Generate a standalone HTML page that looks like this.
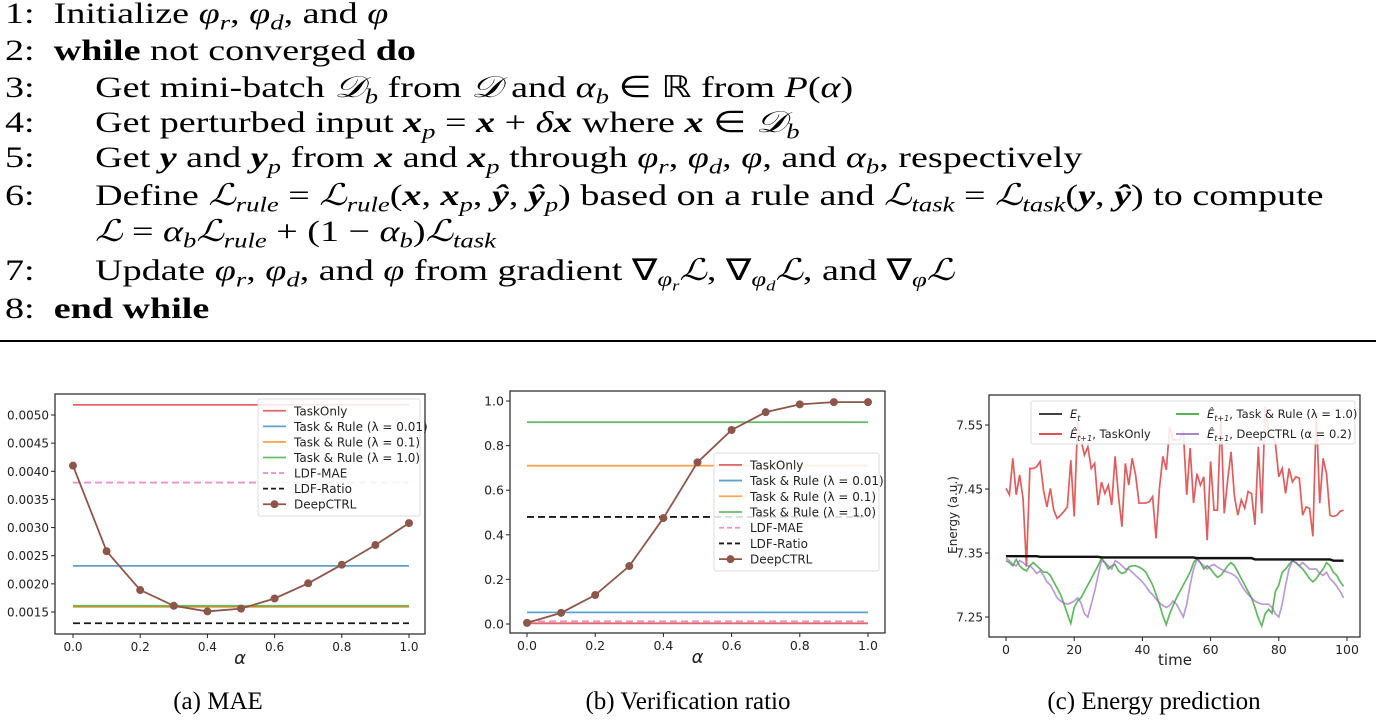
<!DOCTYPE html>
<html><head><meta charset="utf-8">
<style>
html,body{margin:0;padding:0;background:#fff;}
#wrap{position:relative;width:1376px;height:720px;overflow:hidden;font-family:"Liberation Serif",serif;color:#000;}
.ln{position:absolute;font-size:30px;white-space:nowrap;line-height:34px;transform:scaleX(1.27);transform-origin:0 50%;}
.ind{position:absolute;left:71px;}
i{font-style:italic;}
b.v{font-style:italic;font-weight:bold;}
sub{font-size:70%;vertical-align:-0.3em;line-height:0;}
.cap{position:absolute;top:688px;font-size:25px;white-space:nowrap;transform:translateX(-50%);}
svg text{font-family:"DejaVu Sans","Liberation Sans",sans-serif;}
</style></head><body>
<div id="wrap">
<div class="ln" style="top:-3px;left:5px">1:&nbsp; Initialize <i>φ<sub>r</sub></i>, <i>φ<sub>d</sub></i>, and <i>φ</i></div>
<div class="ln" style="top:34px;left:5px">2:&nbsp; <b>while</b> not converged <b>do</b></div>
<div class="ln" style="top:71px;left:5px">3:<span class="ind">Get mini-batch <i>𝒟<sub>b</sub></i> from <i>𝒟</i> and <i>α<sub>b</sub></i> ∈ ℝ from <i>P</i>(<i>α</i>)</span></div>
<div class="ln" style="top:106px;left:5px">4:<span class="ind">Get perturbed input <b class="v">x</b><sub><i>p</i></sub> = <b class="v">x</b> + <i>δ</i><b class="v">x</b> where <b class="v">x</b> ∈ <i>𝒟<sub>b</sub></i></span></div>
<div class="ln" style="top:141px;left:5px">5:<span class="ind">Get <b class="v">y</b> and <b class="v">y</b><sub><i>p</i></sub> from <b class="v">x</b> and <b class="v">x</b><sub><i>p</i></sub> through <i>φ<sub>r</sub></i>, <i>φ<sub>d</sub></i>, <i>φ</i>, and <i>α<sub>b</sub></i>, respectively</span></div>
<div class="ln" style="top:179px;left:5px">6:<span class="ind">Define <i>ℒ<sub>rule</sub></i> = <i>ℒ<sub>rule</sub></i>(<b class="v">x</b>, <b class="v">x</b><sub><i>p</i></sub>, <b class="v">ŷ</b>, <b class="v">ŷ</b><sub><i>p</i></sub>) based on a rule and <i>ℒ<sub>task</sub></i> = <i>ℒ<sub>task</sub></i>(<b class="v">y</b>, <b class="v">ŷ</b>) to compute</span></div>
<div class="ln" style="top:215px;left:95px"><i>ℒ</i> = <i>α<sub>b</sub>ℒ<sub>rule</sub></i> + (1 − <i>α<sub>b</sub></i>)<i>ℒ<sub>task</sub></i></div>
<div class="ln" style="top:254px;left:5px">7:<span class="ind">Update <i>φ<sub>r</sub></i>, <i>φ<sub>d</sub></i>, and <i>φ</i> from gradient ∇<sub><i>φ<sub>r</sub></i></sub><i>ℒ</i>, ∇<sub><i>φ<sub>d</sub></i></sub><i>ℒ</i>, and ∇<sub><i>φ</i></sub><i>ℒ</i></span></div>
<div class="ln" style="top:292px;left:5px">8:&nbsp; <b>end while</b></div>
<div style="position:absolute;left:0;top:340px;width:1376px;height:2px;background:#000"></div>

<svg id="charts" width="1376" height="720" style="position:absolute;left:0;top:0"></svg>

<div class="cap" style="left:218px">(a) MAE</div>
<div class="cap" style="left:688px">(b) Verification ratio</div>
<div class="cap" style="left:1154px">(c) Energy prediction</div>
</div>
<script>
// ---- data ----
const alphas = [0,0.1,0.2,0.3,0.4,0.5,0.6,0.7,0.8,0.9,1.0];
const maeBaselineNames = ["TaskOnly","Task & Rule (λ = 0.01)","Task & Rule (λ = 0.1)","Task & Rule (λ = 1.0)","LDF-MAE","LDF-Ratio"];
const maeBaselines = [0.00518,0.00232,0.00159,0.00161,0.0038,0.0013];
const maeDeep = [0.0041,0.00258,0.00189,0.00161,0.00151,0.00156,0.00174,0.00201,0.00234,0.00269,0.00308];
const maeTicks = [0.0015,0.0020,0.0025,0.0030,0.0035,0.0040,0.0045,0.0050];
const verBaselines = [0.003,0.052,0.71,0.905,0.012,0.48];
const verDeep = [0.005,0.05,0.13,0.26,0.475,0.725,0.87,0.95,0.985,0.995,0.995];
const verTicks = [0.0,0.2,0.4,0.6,0.8,1.0];
const alphaTicks = [0.0,0.2,0.4,0.6,0.8,1.0];
const energyEt = [7.345,7.345,7.345,7.345,7.345,7.345,7.345,7.345,7.345,7.345,7.344,7.344,7.344,7.344,7.344,7.344,7.344,7.344,7.344,7.344,7.344,7.344,7.344,7.344,7.344,7.344,7.344,7.344,7.343,7.343,7.343,7.343,7.343,7.343,7.343,7.343,7.343,7.343,7.343,7.343,7.343,7.343,7.343,7.343,7.343,7.343,7.343,7.343,7.343,7.343,7.343,7.343,7.343,7.343,7.343,7.343,7.342,7.342,7.342,7.342,7.342,7.342,7.342,7.342,7.342,7.342,7.342,7.342,7.342,7.342,7.342,7.342,7.342,7.340,7.340,7.340,7.340,7.340,7.340,7.340,7.340,7.340,7.340,7.340,7.340,7.340,7.340,7.340,7.340,7.340,7.340,7.340,7.340,7.340,7.340,7.340,7.338,7.338,7.338,7.338];
const energyTaskOnly = [7.451,7.441,7.498,7.441,7.472,7.435,7.329,7.482,7.482,7.485,7.493,7.448,7.422,7.451,7.417,7.404,7.409,7.415,7.422,7.495,7.407,7.555,7.527,7.503,7.516,7.482,7.490,7.425,7.461,7.443,7.456,7.425,7.501,7.438,7.391,7.490,7.456,7.498,7.472,7.428,7.428,7.428,7.430,7.438,7.373,7.451,7.501,7.480,7.547,7.527,7.527,7.527,7.540,7.441,7.514,7.428,7.474,7.456,7.469,7.370,7.493,7.417,7.417,7.566,7.412,7.464,7.508,7.438,7.409,7.433,7.420,7.446,7.443,7.394,7.516,7.412,7.579,7.540,7.534,7.521,7.469,7.482,7.443,7.482,7.461,7.469,7.467,7.409,7.422,7.420,7.376,7.568,7.428,7.498,7.474,7.409,7.407,7.409,7.415,7.417];
const energyTaskRule = [7.338,7.335,7.33,7.34,7.33,7.325,7.322,7.33,7.335,7.33,7.325,7.32,7.32,7.315,7.305,7.295,7.285,7.27,7.255,7.24,7.265,7.275,7.28,7.29,7.3,7.31,7.32,7.33,7.342,7.335,7.325,7.33,7.332,7.322,7.318,7.32,7.328,7.33,7.33,7.328,7.325,7.32,7.31,7.3,7.285,7.27,7.252,7.238,7.255,7.268,7.28,7.29,7.3,7.31,7.32,7.335,7.342,7.335,7.325,7.33,7.325,7.318,7.312,7.315,7.322,7.33,7.335,7.33,7.32,7.31,7.3,7.29,7.28,7.265,7.248,7.236,7.255,7.262,7.256,7.29,7.3,7.32,7.325,7.332,7.338,7.335,7.33,7.325,7.318,7.31,7.305,7.31,7.318,7.325,7.335,7.33,7.32,7.315,7.305,7.298];
const energyDeep = [7.342,7.338,7.332,7.33,7.338,7.335,7.33,7.33,7.325,7.318,7.322,7.315,7.305,7.3,7.29,7.28,7.275,7.272,7.27,7.272,7.275,7.28,7.272,7.255,7.25,7.27,7.29,7.315,7.338,7.335,7.33,7.325,7.338,7.335,7.33,7.325,7.325,7.32,7.315,7.31,7.305,7.298,7.29,7.285,7.278,7.272,7.268,7.265,7.268,7.275,7.27,7.26,7.25,7.27,7.3,7.325,7.34,7.335,7.33,7.325,7.33,7.332,7.328,7.325,7.322,7.32,7.318,7.315,7.31,7.3,7.292,7.285,7.28,7.275,7.272,7.27,7.27,7.27,7.265,7.255,7.25,7.27,7.3,7.325,7.338,7.335,7.33,7.335,7.33,7.325,7.325,7.325,7.318,7.315,7.32,7.31,7.305,7.298,7.29,7.28];
const energyTicksY = [7.25,7.35,7.45,7.55];
const timeTicks = [0,20,40,60,80,100];

const svg = document.getElementById('charts');
const NS = 'http://www.w3.org/2000/svg';
function mk(tag, attrs, parent){const e=document.createElementNS(NS,tag);for(const k in attrs)e.setAttribute(k,attrs[k]);(parent||svg).appendChild(e);return e;}
function lin(d0,d1,r0,r1){return v=>r0+(v-d0)*(r1-r0)/(d1-d0);}
const colors = ["#d62728","#1f77b4","#ff7f0e","#2ca02c","#e377c2","#000000"];
const dashes = [null,null,null,null,"7,4","7,4"];
const opac = [0.7,0.7,0.7,0.7,0.8,0.9];

function frame(g,x0,y0,x1,y1){
  const r=mk('rect',{x:x0,y:y0,width:x1-x0,height:y1-y0,fill:'none',stroke:'#222','stroke-width':1.2},g);
  
  
}
function xtick(g,x,yb,label,fs){
  mk('line',{x1:x,x2:x,y1:yb,y2:yb+4,stroke:'#222'},g);
  const t=mk('text',{x:x,y:yb+17,'font-size':fs,'text-anchor':'middle',fill:'#222'},g);
  t.textContent=label;
  
  
}
function ytick(g,xl,y,label,fs){
  mk('line',{x1:xl-4,x2:xl,y1:y,y2:y,stroke:'#222'},g);
  const t=mk('text',{x:xl-6,y:y+4.5,'font-size':fs,'text-anchor':'end',fill:'#222'},g);
  t.textContent=label;
  
  
}
function legend(g,x0,y0,x1,y1,names,deepName){
  const r=mk('rect',{x:x0,y:y0,width:x1-x0,height:y1-y0,fill:'#fff','fill-opacity':0.85,stroke:'#ddd',rx:2},g);
  
  
  const step=(y1-y0-8)/7;
  const all=names.concat([deepName]);
  all.forEach((n,i)=>{
    const y=y0+4+step*(i+0.5);
    const lg=mk('g',{},g);
    
    
    if(i<6){
      const l=mk('line',{x1:x0+5,x2:x0+28,y1:y,y2:y,stroke:colors[i],'stroke-width':1.8,'stroke-opacity':opac[i]},lg);
      if(dashes[i]) l.setAttribute('stroke-dasharray','5,3');
    } else {
      mk('line',{x1:x0+5,x2:x0+28,y1:y,y2:y,stroke:'#8c564b','stroke-width':1.8},lg);
      mk('circle',{cx:x0+16.5,cy:y,r:4,fill:'#8c564b'},lg);
    }
    const t=mk('text',{x:x0+36,y:y+4.5,'font-size':12,fill:'#222'},lg);
    t.textContent=n;
  });
}
function alphaChart(name,box,xr,yr,baselines,deep,yticks,fmt,leg,fs){
  const g=mk('g',{});
  
  
  const X=lin(0,1,xr[0],xr[1]);
  const Y=lin(yr[0],yr[1],yr[2],yr[3]);
  baselines.forEach((v,i)=>{
    const l=mk('line',{x1:X(0),x2:X(1),y1:Y(v),y2:Y(v),stroke:colors[i],'stroke-width':1.8,'stroke-opacity':opac[i]},g);
    if(dashes[i]) l.setAttribute('stroke-dasharray',dashes[i]);
    
    
  });
  const p=mk('polyline',{points:alphas.map((a,i)=>X(a)+','+Y(deep[i])).join(' '),fill:'none',stroke:'#8c564b','stroke-width':1.8},g);
  
  
  alphas.forEach((a,i)=>{
    const c=mk('circle',{cx:X(a),cy:Y(deep[i]),r:4,fill:'#8c564b'},g);
    
    
  });
  frame(g,box[0],box[1],box[2],box[3]);
  alphaTicks.forEach(a=>xtick(g,X(a),box[3],a.toFixed(1),fs));
  yticks.forEach(v=>ytick(g,box[0],Y(v),fmt(v),fs));
  const xl=mk('text',{x:(box[0]+box[2])/2,y:box[3]+30,'font-size':18,'font-style':'italic','text-anchor':'middle',fill:'#222'},g);
  xl.textContent='α';
  
  
  legend(g,leg[0],leg[1],leg[2],leg[3],maeBaselineNames,'DeepCTRL');
}
alphaChart('mae-chart',[55,394,425,634],[73,409],[0.0015,0.0050,612,415],maeBaselines,maeDeep,maeTicks,v=>v.toFixed(4),[258,399,420,516],12);
alphaChart('verification-chart',[510,391,885,633],[527,868],[0,1,624,401],verBaselines,verDeep,verTicks,v=>v.toFixed(1),[714,453,879,571],12.5);

(function(){
  const g=mk('g',{});
  
  
  const box=[989,395,1360,637];
  const X=lin(0,100,1006,1347);
  const Y=lin(7.25,7.55,617,425);
  const series=[[energyTaskOnly,'#d62728',0.75,'taskonly-line'],[energyTaskRule,'#2ca02c',0.75,'task-rule-line'],[energyDeep,'#9467bd',0.65,'deepctrl-line'],[energyEt,'#111',1,'et-line']];
  const cp=mk('clipPath',{id:'clipc'},svg);
  mk('rect',{x:box[0],y:box[1],width:box[2]-box[0],height:box[3]-box[1]},cp);
  series.forEach(s=>{
    const p=mk('polyline',{points:s[0].map((v,i)=>X(i)+','+Y(v)).join(' '),fill:'none',stroke:s[1],'stroke-opacity':s[2],'stroke-width':s[3]==='et-line'?2.4:1.7,'clip-path':'url(#clipc)'},g);
    
    
  });
  frame(g,box[0],box[1],box[2],box[3]);
  timeTicks.forEach(t=>xtick(g,X(t),box[3],String(t),12.5));
  energyTicksY.forEach(v=>ytick(g,box[0],Y(v),v.toFixed(2),12));
  const xl=mk('text',{x:1175,y:665,'font-size':15,'text-anchor':'middle',fill:'#222'},g);
  xl.textContent='time';
  
  
  const yl=mk('text',{x:0,y:0,'font-size':12,'text-anchor':'middle',fill:'#222',transform:'translate(957,515) rotate(-90)'},g);
  yl.textContent='Energy (a.u.)';
  
  
  const lb=mk('rect',{x:1031,y:401,width:324,height:43,fill:'#fff','fill-opacity':0.85,stroke:'#ddd',rx:2},g);
  
  
  const ents=[[1034,414,'#111','E','t'],[1034,434,'#d62728','Ê','t+1, TaskOnly'],[1171,414,'#2ca02c','Ê','t+1, Task & Rule (λ = 1.0)'],[1171,434,'#9467bd','Ê','t+1, DeepCTRL (α = 0.2)']];
  ents.forEach(e=>{
    const lg=mk('g',{},g);
    
    
    mk('line',{x1:e[0]+5,x2:e[0]+28,y1:e[1],y2:e[1],stroke:e[2],'stroke-width':2,'stroke-opacity':0.8},lg);
    const t=mk('text',{x:e[0]+36,y:e[1]+4,'font-size':11.5,fill:'#222'},lg);
    const a=mk('tspan',{'font-style':'italic'},t); a.textContent=e[3];
    const parts=e[4].split(',');
    const s=mk('tspan',{'font-size':8,'font-style':'italic',dy:3},t); s.textContent=parts[0];
    if(parts.length>1){const r=mk('tspan',{dy:-3},t); r.textContent=','+parts.slice(1).join(',');}
  });
})();
</script>
</body></html>
